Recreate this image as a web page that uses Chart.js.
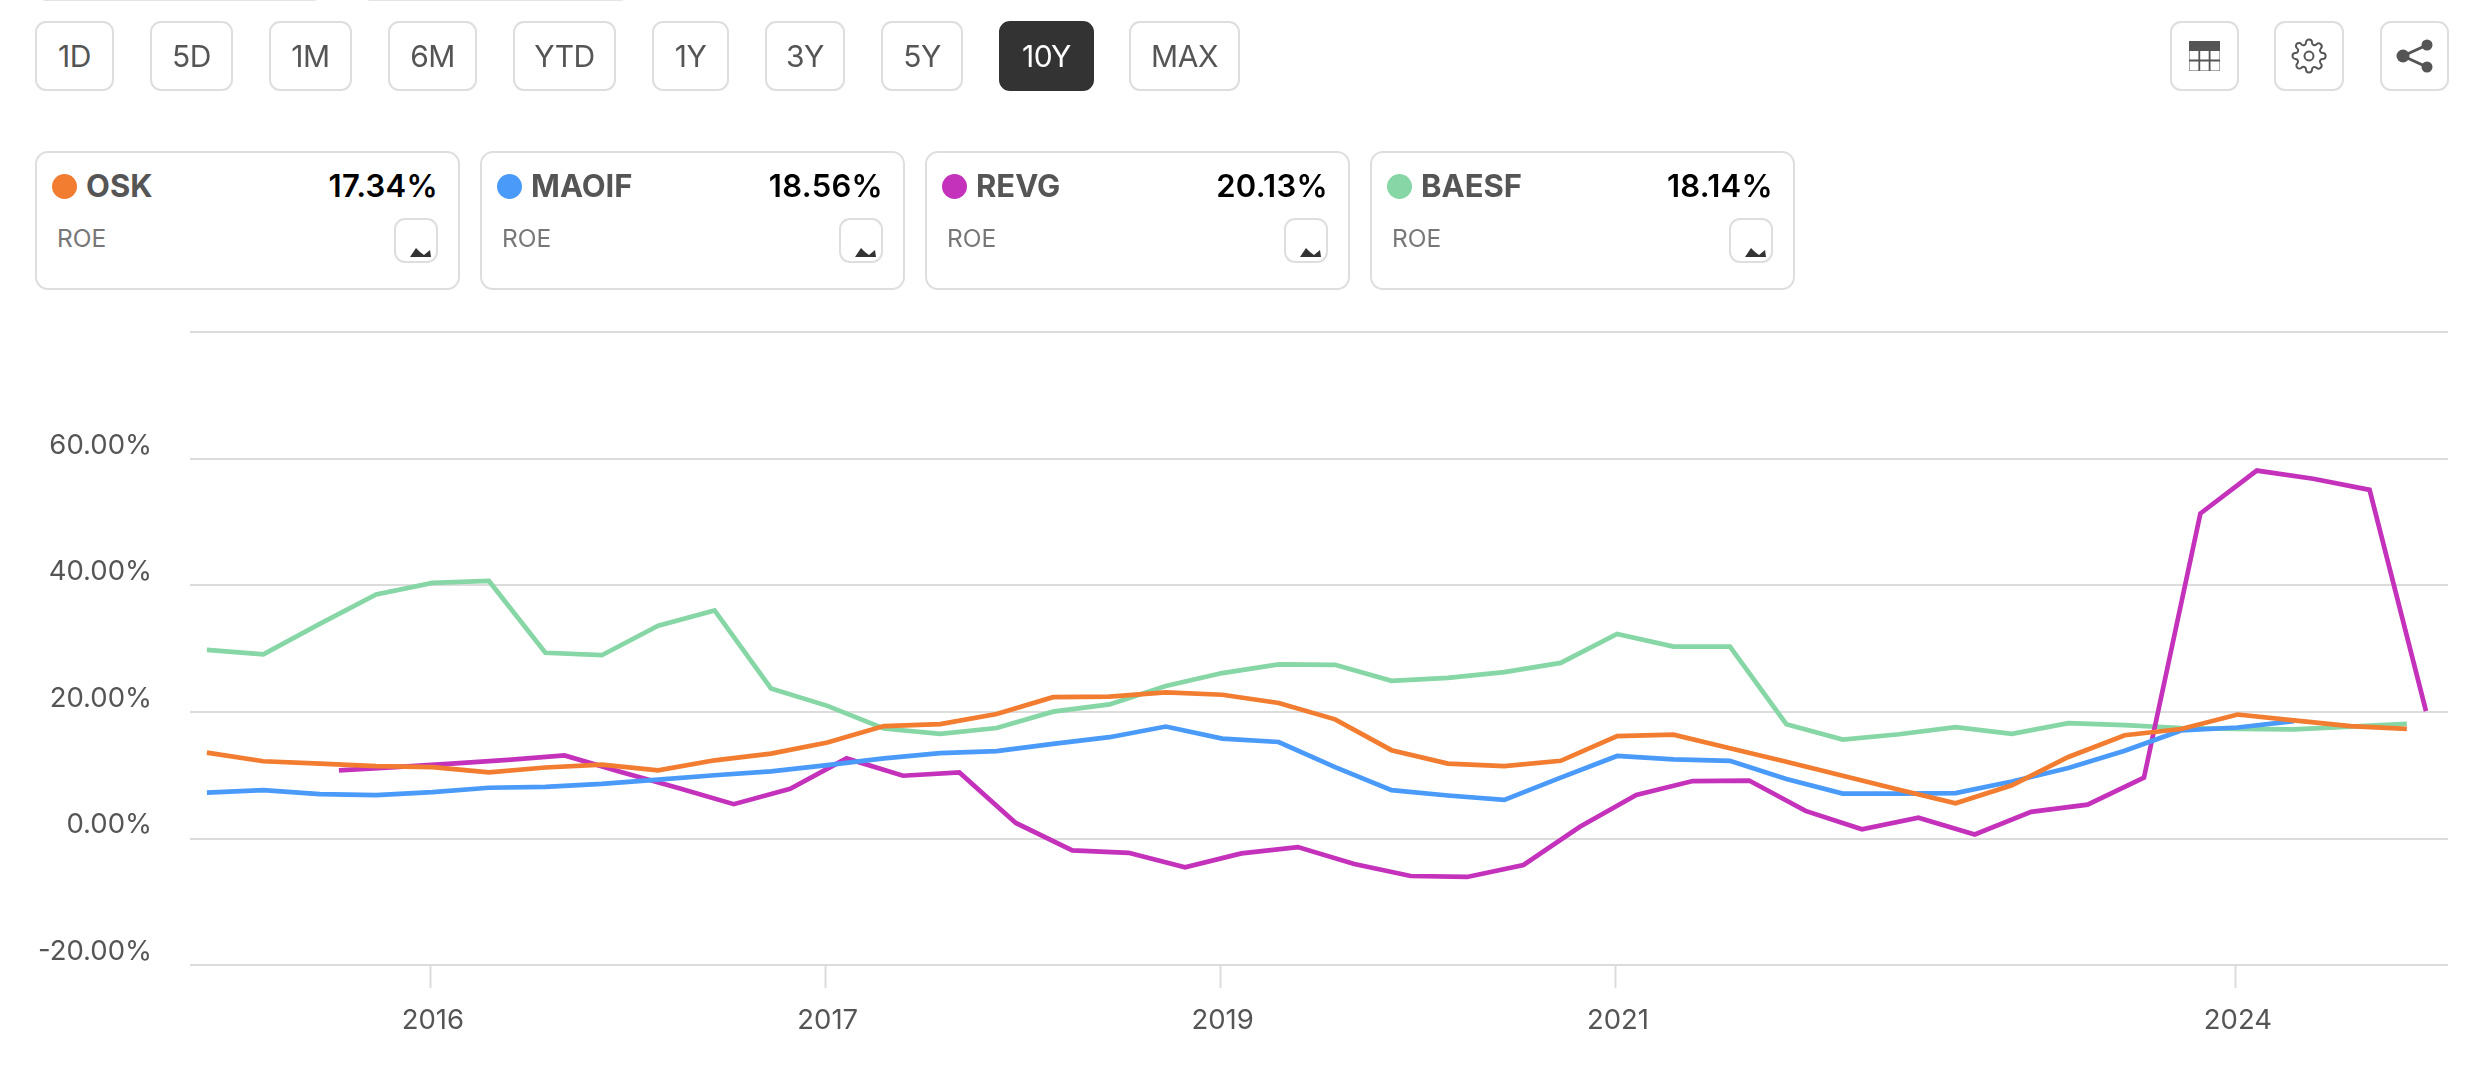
<!DOCTYPE html>
<html><head><meta charset="utf-8">
<script src="https://cdn.jsdelivr.net/npm/chart.js@4"></script>
<style>
html,body{margin:0;padding:0;background:#fff;width:2480px;height:1066px;overflow:hidden;font-family:Inter,"Noto Sans",sans-serif}
canvas{position:absolute;left:0;top:0}
.b{position:absolute;box-sizing:border-box;border:2px solid #dedede;border-radius:11px;background:#fff;color:#555;display:flex;align-items:center;justify-content:center;font-size:30px;letter-spacing:-.5px;top:21px;height:70px}
.b.on{background:#333;border-color:#333;color:#fff}
.c{position:absolute;box-sizing:border-box;border:2px solid #dedede;border-radius:13px;background:#fff;top:151px;height:139px}
.c i{position:absolute;left:15px;top:21px;width:25px;height:25px;border-radius:50%}
.c .n{position:absolute;left:49px;top:15px;font-size:31px;line-height:36px;font-weight:700;color:#555}
.c .v{position:absolute;right:20px;top:15px;font-size:31px;line-height:36px;font-weight:600;color:#000;letter-spacing:.3px}
.c .r{position:absolute;left:20px;top:70px;font-size:24.5px;line-height:30px;color:#777}
.c .m{position:absolute;right:20px;top:65px;width:44px;height:45px;box-sizing:border-box;border:2px solid #dedede;border-radius:11px}
.c .m svg{position:absolute;left:14px;top:27px}
.s{position:absolute;top:-10px;height:11px;box-sizing:border-box;border:2px solid #e4e4e4;border-radius:8px}
</style></head><body>
<canvas id="chart" width="2480" height="1066"></canvas>
<div id="ui"></div>
<script>
const rangeLabels = ['1D','5D','1M','6M','YTD','1Y','3Y','5Y','10Y','MAX'];
const activeRange = '10Y';
const xTickPositions = [3.97,10.97,17.97,24.98,35.97];
const xTickLabels = ['2016','2017','2019','2021','2024'];
const yTickValues = [-20,0,20,40,60,80];
const seriesNames = ['OSK','MAOIF','REVG','BAESF'];
const seriesLatest = ['17.34%','18.56%','20.13%','18.14%'];
const seriesColors = ['#f27c30','#4a9afa','#c432bc','#86d6a6'];
const metricName = 'ROE';
const oskValues = [13.59,12.22,11.84,11.45,11.30,10.46,11.23,11.68,10.77,12.37,13.43,15.19,17.78,18.08,19.68,22.35,22.42,23.11,22.73,21.43,18.84,13.97,11.84,11.45,12.29,16.18,16.41,14.27,12.14,9.93,7.72,5.59,8.41,12.90,16.33,17.32,19.60,18.69,17.78,17.34];
const maoifValues = [7.27,7.65,7.04,6.88,7.34,8.03,8.18,8.64,9.32,10.01,10.62,11.61,12.67,13.51,13.81,14.96,16.02,17.70,15.80,15.26,11.30,7.65,6.81,6.12,9.63,13.05,12.52,12.29,9.40,7.11,7.11,7.19,9.02,11.15,13.89,17.09,17.55,18.56];
const revgValues = [10.77,11.30,11.84,12.44,13.13,10.54,8.03,5.44,7.87,12.67,9.93,10.46,2.47,-1.87,-2.25,-4.54,-2.33,-1.34,-4.01,-5.91,-6.06,-4.16,1.86,6.88,9.09,9.17,4.37,1.48,3.30,0.64,4.22,5.36,9.63,51.36,58.14,56.85,55.09,20.13];
const baesfValues = [29.81,29.12,33.92,38.57,40.39,40.70,29.35,28.97,33.62,36.05,23.72,20.97,17.39,16.56,17.47,20.06,21.20,24.10,26.15,27.52,27.45,24.93,25.39,26.31,27.75,32.32,30.34,30.34,18.08,15.64,16.48,17.62,16.56,18.23,17.93,17.47,17.32,17.24,17.70,18.14];
const revgStart = 2.34;

const ui = document.getElementById('ui');
const btnBoxes = [[35,114],[150,233],[269,352],[388,477],[513,616],[652,729],[765,845],[881,963],[999,1094],[1129,1240]];
let html = '';
html += '<div class="s" style="left:40px;width:279px"></div><div class="s" style="left:365px;width:261px"></div>';
rangeLabels.forEach((t,i)=>{const [a,b]=btnBoxes[i];
  html += `<div class="b${t===activeRange?' on':''}" style="left:${a}px;width:${b-a}px">${t}</div>`;});
html += `<div class="b" style="left:2170px;width:69px"><svg width="31" height="30" viewBox="0 0 31 30"><rect x="0" y="0" width="31" height="30" fill="#fff" stroke="#555" stroke-width="1"/><rect x="0" y="0" width="31" height="10" fill="#555"/><path d="M0 19.5H31M10.3 10V30M20.6 10V30" stroke="#555" stroke-width="1.8"/></svg></div>`;
html += `<div class="b" style="left:2274px;width:70px"><svg width="36" height="36" viewBox="0 0 24 24" fill="none" stroke="#555" stroke-width="1.3" stroke-linejoin="round"><circle cx="12" cy="12" r="3"/><path d="M19.4 15a1.7 1.7 0 0 0 .3 1.8l.1.1a2 2 0 1 1-2.9 2.9l-.1-.1a1.7 1.7 0 0 0-2.8 1.2V21a2 2 0 1 1-4 0v-.1a1.7 1.7 0 0 0-2.9-1.2l-.1.1a2 2 0 1 1-2.8-2.9l.1-.1a1.7 1.7 0 0 0-1.2-2.8H3a2 2 0 1 1 0-4h.1a1.7 1.7 0 0 0 1.2-2.9l-.1-.1A2 2 0 1 1 7 4.3l.1.1a1.7 1.7 0 0 0 1.9.3 1.7 1.7 0 0 0 1-1.5V3a2 2 0 1 1 4 0v.1a1.7 1.7 0 0 0 2.9 1.2l.1-.1A2 2 0 1 1 19.9 7l-.1.1a1.7 1.7 0 0 0 1.2 2.9h.1a2 2 0 1 1 0 4H21a1.7 1.7 0 0 0-1.6 1z"/></svg></div>`;
html += `<div class="b" style="left:2380px;width:69px"><svg width="38" height="34" viewBox="0 0 38 34"><path d="M31 6L7 17L31 28" fill="none" stroke="#555" stroke-width="3"/><circle cx="31" cy="6" r="5.5" fill="#555"/><circle cx="7" cy="17" r="6.5" fill="#555"/><circle cx="31" cy="28" r="5.5" fill="#555"/></svg></div>`;
const cardBoxes = [[35,460],[480,905],[925,1350],[1370,1795]];
seriesNames.forEach((n,i)=>{const [a,b]=cardBoxes[i];
  html += `<div class="c" style="left:${a}px;width:${b-a}px"><i style="background:${seriesColors[i]}"></i><div class="n">${n}</div><div class="v">${seriesLatest[i]}</div><div class="r">${metricName}</div><div class="m"><svg width="22" height="10" viewBox="0 0 22 10"><path d="M0 10L6 1L9 4L10 5L14 8L20 3L21 10Z" fill="#333"/></svg></div></div>`;});
ui.innerHTML = html;

const pts = (vals,start)=>vals.map((v,i)=>({x:start+i,y:v}));
const seriesData = [pts(oskValues,0),pts(maoifValues,0),pts(revgValues,revgStart),pts(baesfValues,0)];
const gridColor = '#dcdcdc', labelColor = '#555';
const tickFont = {family:'Inter',size:27.5,weight:'400'};
new Chart(document.getElementById('chart'),{
  type:'line',
  data:{datasets:seriesNames.map((n,i)=>({label:n,data:seriesData[i],borderColor:seriesColors[i],borderWidth:4.7,pointRadius:0,tension:0,fill:false,backgroundColor:seriesColors[i]}))},
  options:{
    responsive:false,animation:false,
    layout:{padding:{top:332.2,right:32,left:0,bottom:0}},
    plugins:{legend:{display:false},tooltip:{enabled:false}},
    scales:{
      x:{type:'linear',position:'bottom',min:-0.30,max:39.73,
        afterBuildTicks(s){s.ticks=xTickPositions.map(v=>({value:v}));},
        afterFit(s){s.height=100.8;},
        border:{display:false},
        grid:{drawOnChartArea:false,drawTicks:true,tickLength:23,tickWidth:2,color:gridColor},
        ticks:{autoSkip:false,maxRotation:0,minRotation:0,padding:16,labelOffset:2,color:labelColor,font:tickFont,
          callback(v,i){return xTickLabels[i];}}},
      y:{type:'linear',position:'left',min:-20,max:80,
        afterBuildTicks(s){s.ticks=yTickValues.map(v=>({value:v}));},
        afterFit(s){s.width=190;},
        border:{display:false},
        grid:{drawTicks:false,lineWidth:2,color:gridColor},
        ticks:{padding:38,labelOffset:-13.5,color:labelColor,font:tickFont,
          callback(v){return v===80?'':v.toFixed(2)+'%';}}}
    }
  }
});
</script>
</body></html>
